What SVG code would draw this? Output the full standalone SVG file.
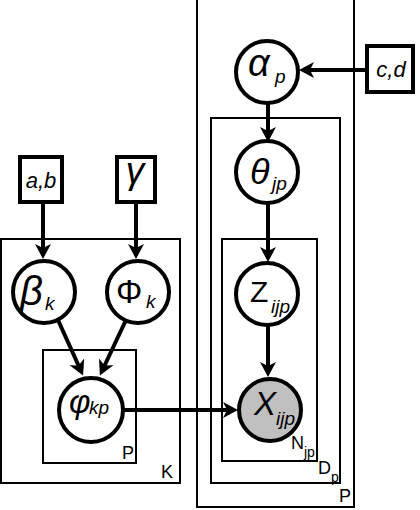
<svg xmlns="http://www.w3.org/2000/svg" width="420" height="510" viewBox="0 0 420 510">
<defs>
<marker id="ah" markerUnits="userSpaceOnUse" markerWidth="20" markerHeight="20" viewBox="-2 -10 20 20" refX="10" refY="0" orient="auto">
<path d="M0,-8 L15,0 L0,8 L4,0 z" fill="#000"/>
</marker>
</defs>
<style>
.plate{fill:none;stroke:#000;stroke-width:2}
.node{fill:#fff;stroke:#000;stroke-width:4}
.obs{fill:#c0c0c0;stroke:#000;stroke-width:4}
.box{fill:#fff;stroke:#000;stroke-width:4}
.edge{stroke:#000;stroke-width:4;fill:none;marker-end:url(#ah)}
.m{font-family:"Liberation Sans",Arial,sans-serif;font-size:32px;fill:#000}
.s{font-family:"Liberation Sans",Arial,sans-serif;font-size:19px;font-style:italic;fill:#000}
.i{font-style:italic}
.pl{font-family:"Liberation Sans",Arial,sans-serif;font-size:18px;fill:#000}
.pls{font-family:"Liberation Sans",Arial,sans-serif;font-size:14px;fill:#000}
.b{font-family:"Liberation Sans",Arial,sans-serif;font-size:22px;font-style:italic;fill:#000}
</style>
<g id="plates">
<rect id="plate-K" class="plate" x="1" y="239" width="179" height="244"/>
<rect id="plate-P-inner" class="plate" x="43" y="350" width="93" height="113"/>
<rect id="plate-P-outer" class="plate" x="197" y="-5" width="157" height="512"/>
<rect id="plate-D" class="plate" x="211" y="118" width="129" height="365"/>
<rect id="plate-N" class="plate" x="222" y="239" width="95" height="222"/>
<text class="pl" x="122" y="459">P</text>
<text class="pl" x="161" y="478">K</text>
<text class="pl" x="291" y="449">N</text><text class="pls" x="304" y="457">jp</text>
<text class="pl" x="318" y="474">D</text><text class="pls" x="331" y="482">p</text>
<text class="pl" x="339" y="502">P</text>
</g>
<g id="edges">
<line class="edge" x1="43" y1="202" x2="43" y2="254"/>
<line class="edge" x1="136" y1="202" x2="136" y2="254"/>
<line class="edge" x1="58" y1="320" x2="81" y2="371"/>
<line class="edge" x1="126" y1="320" x2="102" y2="371"/>
<line class="edge" x1="124" y1="410" x2="233" y2="410"/>
<line class="edge" x1="366" y1="70" x2="304" y2="70"/>
<line class="edge" x1="268" y1="103" x2="268" y2="137"/>
<line class="edge" x1="268" y1="203" x2="268" y2="257"/>
<line class="edge" x1="268" y1="325" x2="268" y2="372"/>
</g>
<g id="node-ab">
<rect class="box" x="20" y="157" width="42" height="45"/>
<text class="b" x="41" y="188" text-anchor="middle">a,b</text>
</g>
<g id="node-gamma">
<rect class="box" x="117" y="157" width="38" height="45"/>
<text class="m i" x="135" y="183" style="font-size:37px" text-anchor="middle">γ</text>
</g>
<g id="node-cd">
<rect class="box" x="367" y="46" width="46" height="46"/>
<text class="b" x="391" y="77" text-anchor="middle">c,d</text>
</g>
<g id="node-beta">
<circle class="node" cx="44" cy="292" r="31"/>
<text class="m i" x="20" y="305" style="font-size:40px">β</text><text class="s" x="45" y="310">k</text>
</g>
<g id="node-Phi">
<circle class="node" cx="138" cy="292" r="31"/>
<text class="m" x="116" y="303" style="font-size:33px">Φ</text><text class="s" x="146" y="308">k</text>
</g>
<g id="node-varphi">
<circle class="node" cx="91" cy="410" r="32"/>
<text class="m i" x="69" y="413" style="font-size:33px">φ</text><text class="s" x="89" y="414">kp</text>
</g>
<g id="node-X">
<circle class="obs" cx="270" cy="410" r="31"/>
<text class="m i" x="254" y="415" style="font-size:33px">X</text><text class="s" x="276" y="425">ijp</text>
</g>
<g id="node-alpha">
<circle class="node" cx="267" cy="72" r="31"/>
<text class="m i" x="248" y="76" style="font-size:38px">α</text><text class="s" x="275" y="83">p</text>
</g>
<g id="node-theta">
<circle class="node" cx="267" cy="172" r="31"/>
<text class="m i" x="250" y="184" style="font-size:36px">θ</text><text class="s" x="272" y="190">jp</text>
</g>
<g id="node-Z">
<circle class="node" cx="267" cy="294" r="31"/>
<text class="m" x="250" y="302" style="font-size:30px">Z</text><text class="s" x="271" y="313">ijp</text>
</g>
</svg>
